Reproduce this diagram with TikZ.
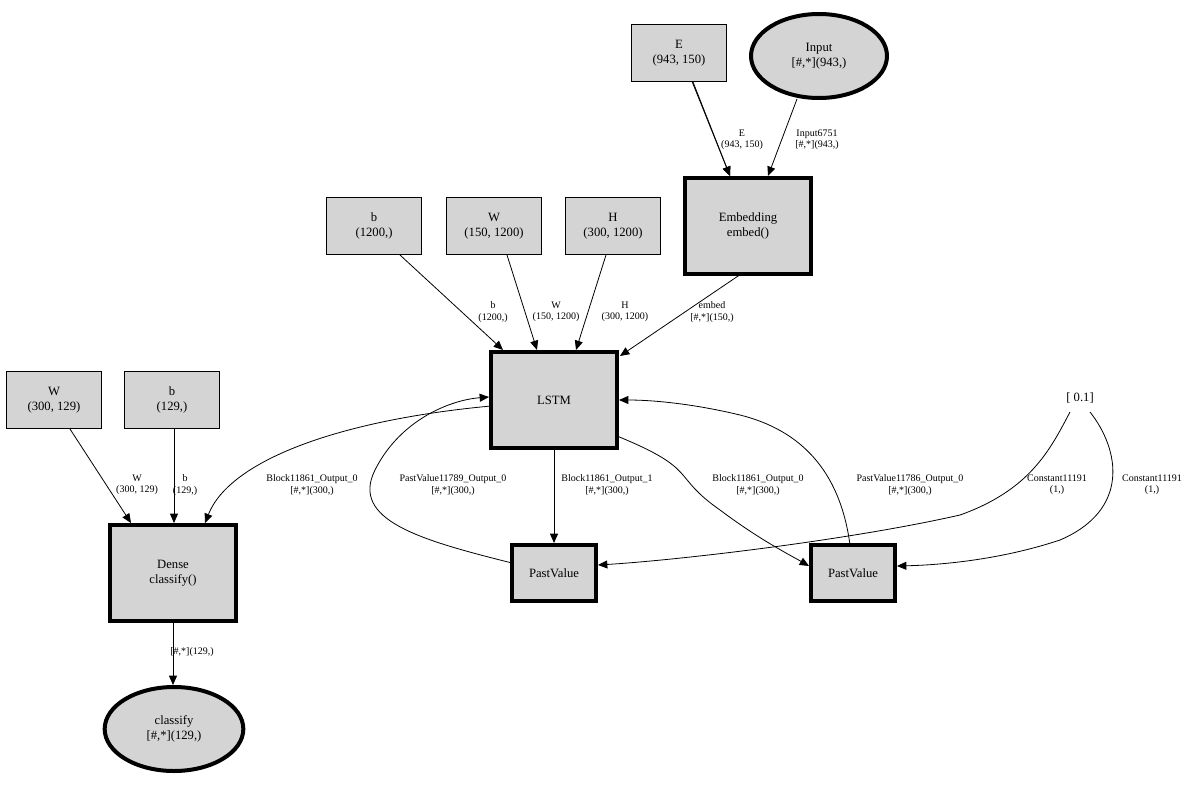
\documentclass[tikz,border=0pt]{standalone}
\usepackage{fontspec}
\setmainfont{Liberation Serif}
\usetikzlibrary{arrows.meta,shapes.geometric}
\begin{document}
\begin{tikzpicture}[x=0.75pt,y=-0.75pt,
  box/.style={draw,fill=black!17,minimum width=71pt,minimum height=43pt,align=center,font=\fontsize{9.5}{11}\selectfont,line width=0.6pt},
  op/.style={draw,fill=black!17,minimum width=94pt,minimum height=72pt,align=center,font=\fontsize{9.5}{11}\selectfont,line width=3pt},
  pv/.style={draw,fill=black!17,minimum width=63pt,minimum height=42pt,align=center,font=\fontsize{9.5}{11}\selectfont,line width=3pt},
  egg/.style={draw,ellipse,fill=black!17,minimum width=102pt,minimum height=63pt,align=center,font=\fontsize{9.5}{11}\selectfont,line width=3pt},
  lab/.style={align=center,font=\fontsize{7.5}{8.5}\selectfont,inner sep=0pt},
  e/.style={-{Triangle[length=7pt,width=6pt]},line width=0.6pt}]
\useasboundingbox (0,0) rectangle (1199,785);
\node[box] (E) at (679,53) {E\\(943, 150)};
\node[egg] (In) at (819,56) {Input\\{[\#,*]}(943,)};
\node[op] (Emb) at (748,226) {Embedding\\embed()};
\node[box] (b1) at (374,226) {b\\(1200,)};
\node[box] (W1) at (494,226) {W\\(150, 1200)};
\node[box] (H1) at (613,226) {H\\(300, 1200)};
\node[op] (L) at (554,400) {LSTM};
\node[box] (W2) at (54,400) {W\\(300, 129)};
\node[box] (b2) at (172,400) {b\\(129,)};
\node[op] (D) at (173,573) {Dense\\classify()};
\node[egg,minimum width=104pt] (C) at (174,729) {classify\\{[\#,*]}(129,)};
\node[font=\fontsize{9.5}{11}\selectfont] (K) at (1080,398) {[ 0.1]};
\node[pv] (P1) at (554,573) {PastValue};
\node[pv] (P2) at (853,573) {PastValue};

\draw[e] (E.south west)++(61,0) coordinate (a1) -- (Emb.north west -| 730,0);
\draw[e] (E) ++(14,29) -- (730,176);
\draw[e] (In) ++(-22,43) -- (768,176);
\node[lab] at (742,140) {E\\(943, 150)};
\node[lab] at (817,140) {Input6751\\{[\#,*]}(943,)};
\draw[e] (b1) ++(26,29) -- (503,350);
\draw[e] (W1) ++(13,29) -- (537,350);
\draw[e] (H1) ++(-7,29) -- (576,350);
\draw[e] (Emb) ++(-7,48) -- (620,356);
\node[lab] at (493,312) {b\\(1200,)};
\node[lab] at (556,312) {W\\(150, 1200)};
\node[lab] at (625,312) {H\\(300, 1200)};
\node[lab] at (712,312) {embed\\{[\#,*]}(150,)};
\draw[e] (W2) ++(16,29) -- (131,523);
\draw[e] (b2) ++(2,29) -- (174,523);
\node[lab] at (137,485) {W\\(300, 129)};
\node[lab] at (185,485) {b\\(129,)};
\draw[e] (L) ++(-63,6) .. controls (340,420) and (230,460) .. (205,523);
\node[lab] at (312,485) {Block11861\_Output\_0\\{[\#,*]}(300,)};
\draw[e] (L) ++(0,49) -- (554,543);
\node[lab] at (607,485) {Block11861\_Output\_1\\{[\#,*]}(300,)};
\draw[e] (P1) ++(-42,-10) .. controls (420,540) and (350,520) .. (375,470) .. controls (400,420) and (450,400) .. (489,397);
\node[lab] at (453,485) {PastValue11789\_Output\_0\\{[\#,*]}(300,)};
\draw[e] (L) ++(63,36) .. controls (700,470) and (670,475) .. (720,510) .. controls (760,540) and (790,555) .. (809,566);
\node[lab] at (758,485) {Block11861\_Output\_0\\{[\#,*]}(300,)};
\draw[e] (P2) ++(-3,-28) .. controls (840,470) and (800,430) .. (740,415) .. controls (690,403) and (650,400) .. (619,400);
\node[lab] at (910,485) {PastValue11786\_Output\_0\\{[\#,*]}(300,)};
\draw[e] (K) ++(-10,14) .. controls (1050,450) and (1030,490) .. (960,515) .. controls (850,540) and (680,560) .. (598,565);
\draw[e] (K) ++(10,14) .. controls (1120,450) and (1130,510) .. (1060,540) .. controls (1000,560) and (940,565) .. (897,566);
\node[lab] at (1057,485) {Constant11191\\(1,)};
\node[lab] at (1152,485) {Constant11191\\(1,)};
\draw[e] (D) ++(0,48) -- (173,685);
\node[lab] at (192,652) {[\#,*](129,)};
\end{tikzpicture}
\end{document}
